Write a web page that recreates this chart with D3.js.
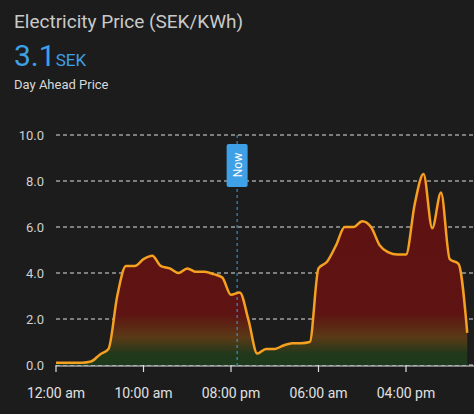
<!DOCTYPE html>
<html>
<head>
<meta charset="utf-8">
<title>Electricity Price</title>
<script src="https://d3js.org/d3.v7.min.js"></script>
<style>
  body { margin: 0; background: #111; }
  #card { width: 474px; height: 414px; background: #1c1c1c; position: relative; font-family: Roboto, sans-serif; overflow: hidden; }
  .title { position: absolute; left: 14px; top: 10px; font-size: 19px; color: #c9c9c9; }
  .value { position: absolute; left: 14px; top: 38px; color: #3ea0e6; font-size: 30px; }
  .value span { font-size: 17px; }
  .sub { position: absolute; left: 14px; top: 77px; color: #d8d8d8; font-size: 13px; }
  svg { position: absolute; left: 0; top: 0; }
</style>
</head>
<body>
<div id="card">
  <div class="title">Electricity Price (SEK/KWh)</div>
  <div class="value">3.1<span>SEK</span></div>
  <div class="sub">Day Ahead Price</div>
</div>
<script>
// hourly prices, two days
var hours = d3.range(48);
var prices = [0.1, 0.1, 0.1, 0.1, 0.15, 0.45, 0.7, 3.0, 4.3, 4.3, 4.6, 4.75,
              4.3, 4.2, 4.0, 4.2, 4.05, 4.05, 3.95, 3.8, 3.05, 3.15, 1.95, 0.5,
              0.7, 0.7, 0.85, 0.95, 0.95, 1.0, 4.2, 4.5, 5.2, 6.0, 6.0, 6.25,
              6.0, 5.2, 4.9, 4.8, 4.8, 7.0, 8.3, 5.95, 7.5, 4.6, 4.4, 1.4];
var yTicks = [0, 2, 4, 6, 8, 10];
var xTicks = [0, 10, 20, 30, 40];
var xLabels = ["12:00 am", "10:00 am", "08:00 pm", "06:00 am", "04:00 pm"];
var nowHour = 20.7;

var svg = d3.select("#card").append("svg").attr("width", 474).attr("height", 414);
var x = d3.scaleLinear().domain([0, 10]).range([56, 143.5]);
var y = d3.scaleLinear().domain([0, 10]).range([365, 135]);

var defs = svg.append("defs");
var g = defs.append("linearGradient").attr("id", "fill").attr("gradientUnits", "userSpaceOnUse")
  .attr("x1", 0).attr("x2", 0).attr("y1", y(10)).attr("y2", y(0));
g.append("stop").attr("offset", "0%").attr("stop-color", "#5e1212");
g.append("stop").attr("offset", "78%").attr("stop-color", "#5e1412");
g.append("stop").attr("offset", "88%").attr("stop-color", "#5a3a16");
g.append("stop").attr("offset", "95%").attr("stop-color", "#22381a");
g.append("stop").attr("offset", "100%").attr("stop-color", "#1c3a1c");

// grid
svg.selectAll(".grid").data(yTicks).enter().append("line")
  .attr("x1", 56).attr("x2", 474).attr("y1", function(d){ return y(d); }).attr("y2", function(d){ return y(d); })
  .attr("stroke", "#e0e0e0").attr("stroke-width", 1.2).attr("stroke-dasharray", "4,3");
svg.selectAll(".yl").data(yTicks).enter().append("text")
  .attr("x", 44).attr("y", function(d){ return y(d) + 5; }).attr("text-anchor", "end")
  .attr("fill", "#d0d0d0").attr("font-size", 13).attr("font-family", "Roboto, sans-serif")
  .text(function(d){ return d.toFixed(1); });

var curve = d3.curveMonotoneX;
var area = d3.area().x(function(d, i){ return x(hours[i]); }).y0(y(0)).y1(function(d){ return y(d); }).curve(curve);
var line = d3.line().x(function(d, i){ return x(hours[i]); }).y(function(d){ return y(d); }).curve(curve);
svg.append("path").datum(prices).attr("d", area).attr("fill", "url(#fill)");

// x axis
svg.append("line").attr("x1", 56).attr("x2", 474).attr("y1", y(0) + 1).attr("y2", y(0) + 1).attr("stroke", "#e0e0e0").attr("stroke-width", 1.2);
svg.selectAll(".xt").data(xTicks).enter().append("line")
  .attr("x1", function(d){ return x(d); }).attr("x2", function(d){ return x(d); })
  .attr("y1", y(0)).attr("y2", y(0) + 7).attr("stroke", "#e0e0e0").attr("stroke-width", 1.2);
svg.selectAll(".xl").data(xTicks).enter().append("text")
  .attr("x", function(d){ return x(d); }).attr("y", 398).attr("text-anchor", "middle")
  .attr("fill", "#e0e0e0").attr("font-size", 14).attr("font-family", "Roboto, sans-serif")
  .text(function(d, i){ return xLabels[i]; });

// now marker
svg.append("line").attr("x1", x(nowHour)).attr("x2", x(nowHour)).attr("y1", y(10)).attr("y2", y(0))
  .attr("stroke", "#3ea0e6").attr("stroke-width", 1).attr("stroke-dasharray", "3,3");
svg.append("rect").attr("x", x(nowHour) - 10.5).attr("y", 144).attr("width", 21).attr("height", 43).attr("rx", 2).attr("fill", "#3ea0e6");
svg.append("text").attr("transform", "translate(" + (x(nowHour) + 4.5) + ",165) rotate(-90)")
  .attr("text-anchor", "middle").attr("fill", "#fff").attr("font-size", 12).attr("font-family", "Roboto, sans-serif").text("Now");

svg.append("path").datum(prices).attr("d", line).attr("fill", "none").attr("stroke", "#f5a020").attr("stroke-width", 2.5);
</script>
</body>
</html>
